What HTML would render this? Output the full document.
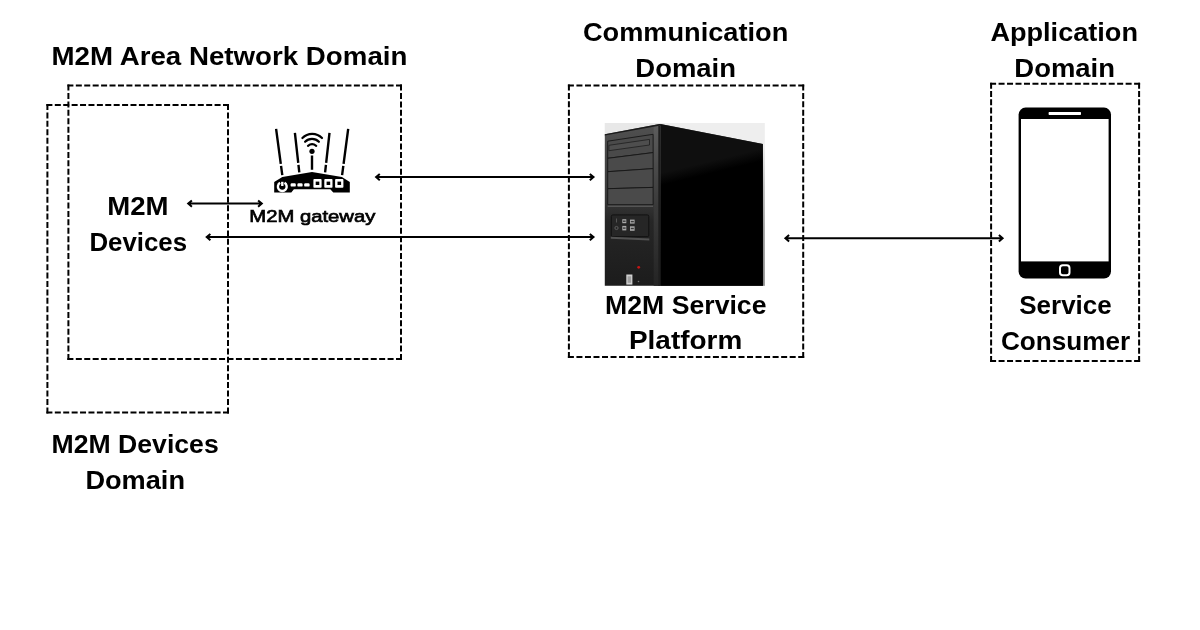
<!DOCTYPE html>
<html><head><meta charset="utf-8">
<style>
html,body{margin:0;padding:0;background:#fff;}
body{width:1200px;height:630px;overflow:hidden;position:relative;}
svg{position:absolute;left:0;top:0;will-change:transform;}
text{font-family:"Liberation Sans",sans-serif;font-weight:bold;fill:#000;}
</style></head>
<body>
<svg width="1200" height="630" viewBox="0 0 1200 630">
<g stroke="#000" stroke-width="2" fill="none">
  <path d="M67.40 85.60 L402.00 85.60" stroke-dasharray="6.0 2.426"/>
  <path d="M68.40 84.60 L68.40 360.00" stroke-dasharray="6.0 2.419"/>
  <path d="M67.40 359.00 L402.00 359.00" stroke-dasharray="6.0 2.426"/>
  <path d="M401.00 84.60 L401.00 360.00" stroke-dasharray="6.0 2.419"/>
  <path d="M46.40 105.00 L229.00 105.00" stroke-dasharray="6.0 2.410"/>
  <path d="M47.40 104.00 L47.40 413.40" stroke-dasharray="6.0 2.428"/>
  <path d="M46.40 412.40 L229.00 412.40" stroke-dasharray="6.0 2.410"/>
  <path d="M228.00 104.00 L228.00 413.40" stroke-dasharray="6.0 2.428"/>
  <path d="M567.90 85.60 L804.20 85.60" stroke-dasharray="6.0 2.530"/>
  <path d="M568.90 84.60 L568.90 357.90" stroke-dasharray="6.0 2.353"/>
  <path d="M567.90 356.90 L804.20 356.90" stroke-dasharray="6.0 2.530"/>
  <path d="M803.20 84.60 L803.20 357.90" stroke-dasharray="6.0 2.353"/>
  <path d="M990.10 83.70 L1140.10 83.70" stroke-dasharray="6.0 2.471"/>
  <path d="M991.10 82.70 L991.10 362.00" stroke-dasharray="6.0 2.282"/>
  <path d="M990.10 361.00 L1140.10 361.00" stroke-dasharray="6.0 2.471"/>
  <path d="M1139.10 82.70 L1139.10 362.00" stroke-dasharray="6.0 2.282"/>
</g>
<g stroke="#000" stroke-width="2" fill="none" stroke-linecap="butt" stroke-linejoin="miter">
  <path d="M188.20 203.60 H261.80 M191.90 200.40 L188.20 203.60 L191.90 206.80 M258.10 200.40 L261.80 203.60 L258.10 206.80"/>
  <path d="M206.70 237.10 H593.50 M210.40 233.90 L206.70 237.10 L210.40 240.30 M589.80 233.90 L593.50 237.10 L589.80 240.30"/>
  <path d="M376.10 177.10 H593.50 M379.80 173.90 L376.10 177.10 L379.80 180.30 M589.80 173.90 L593.50 177.10 L589.80 180.30"/>
  <path d="M785.40 238.20 H1002.60 M789.10 235.00 L785.40 238.20 L789.10 241.40 M998.90 235.00 L1002.60 238.20 L998.90 241.40"/>
</g>

<!-- router -->
<g fill="#000">
  <path d="M274.2 182.1 L282.3 176.9 L312 172 L341.9 176.9 L349.8 182.1 L349.8 192.6 L333.3 192.6 L330.3 189.3 L293.9 189.3 L291.3 192.6 L274.2 192.6 Z"/>
  <circle cx="312" cy="151.3" r="2.6"/>
</g>
<g stroke="#000" stroke-width="2.4" fill="none" stroke-linecap="butt">
  <path d="M276.1 128.9 L282.3 175.1 M294.9 132.9 L299.3 172.4 M312 155.6 V169.8 M329.5 132.9 L325.1 172.4 M348.2 128.9 L342.1 175.1"/>
</g>
<g stroke="#fff" stroke-width="2" fill="none">
  <path d="M278 165.3 L284 164.5 M295.5 164.2 L301 163.6 M323.5 163.6 L329 164.2 M340.5 164.5 L346.5 165.3"/>
</g>
<g stroke="#000" stroke-width="2.2" fill="none" stroke-linecap="round">
  <path d="M308 145.8 A6.7 6.7 0 0 1 316.2 145.8"/>
  <path d="M305.1 141.8 A9.7 9.7 0 0 1 318.9 141.8"/>
  <path d="M302.4 138 A13.5 13.5 0 0 1 322 138"/>
</g>
<g fill="#fff">
  <rect x="290.6" y="183.3" width="5.2" height="3.3" rx="1.2"/>
  <rect x="297.4" y="183.3" width="5.2" height="3.3" rx="1.2"/>
  <rect x="304.2" y="183.3" width="5.4" height="3.3" rx="1.2"/>
  <rect x="313.4" y="179.1" width="8.2" height="8.6" rx="0.8"/>
  <rect x="324.3" y="179.1" width="8.2" height="8.6" rx="0.8"/>
  <rect x="335.1" y="179.1" width="8.3" height="8.6" rx="0.8"/>
</g>
<g fill="#000">
  <rect x="315.7" y="181.6" width="3.6" height="3.4"/>
  <rect x="326.6" y="181.6" width="3.6" height="3.4"/>
  <rect x="337.5" y="181.6" width="3.6" height="3.4"/>
</g>
<g stroke="#fff" stroke-width="2.4" fill="none">
  <path d="M280.1 182.8 A4.4 4.4 0 1 0 284.5 182.8"/>
  <path d="M282.3 181.8 V186"/>
</g>

<!-- phone -->
<rect x="1018.6" y="107.6" width="92.4" height="171" rx="7" fill="#000"/>
<rect x="1021" y="119" width="87.6" height="142.4" fill="#fff"/>
<rect x="1048.6" y="111.9" width="32.4" height="3.1" rx="0.8" fill="#fff"/>
<rect x="1060" y="265.3" width="9.5" height="9.9" rx="2.8" fill="none" stroke="#fff" stroke-width="2"/>

<!-- server -->
<defs>
  <linearGradient id="rstrip" x1="0" y1="0" x2="0" y2="1">
    <stop offset="0" stop-color="#f2f2f2"/>
    <stop offset="0.3" stop-color="#bdbdbd"/>
    <stop offset="0.6" stop-color="#9c9c9c"/>
    <stop offset="1" stop-color="#888"/>
  </linearGradient>
  <linearGradient id="sidetop" gradientUnits="userSpaceOnUse" x1="710.1" y1="161.2" x2="712.9" y2="172.8">
    <stop offset="0" stop-color="#0f0f0f"/>
    <stop offset="1" stop-color="#000"/>
  </linearGradient>
  <linearGradient id="front" x1="0" y1="0" x2="0" y2="1">
    <stop offset="0" stop-color="#505050"/>
    <stop offset="0.45" stop-color="#3a3a3a"/>
    <stop offset="0.6" stop-color="#262626"/>
    <stop offset="1" stop-color="#1c1c1c"/>
  </linearGradient>
  <linearGradient id="bevel" x1="0" y1="0" x2="0" y2="1">
    <stop offset="0" stop-color="#5c5c5c"/>
    <stop offset="0.5" stop-color="#3a3a3a"/>
    <stop offset="1" stop-color="#242424"/>
  </linearGradient>
</defs>
<rect x="604.8" y="123" width="160" height="162.8" fill="#eeeeee"/>
<rect x="604.8" y="123" width="56" height="14" fill="#e8e8e8"/>
<rect x="761.8" y="144" width="3" height="141.8" fill="url(#rstrip)"/>
<path d="M604.8 134.2 L659.5 124 L660.5 124 L762.9 143.9 L762.9 285.8 L604.8 285.8 Z" fill="url(#front)"/>
<path d="M660.3 124 L762.9 143.9 L762.9 285.8 L660.3 285.8 Z" fill="url(#sidetop)"/>
<rect x="653.7" y="126" width="6.6" height="159.8" fill="url(#bevel)"/>
<rect x="658.3" y="126" width="2" height="159.8" fill="#1e1e1e"/>
<path d="M604.8 134.2 L659.5 124 L660.5 124 L660.5 125.4 L604.8 135.6 Z" fill="#1a1a1a"/>
<g fill="#4a4a4a" stroke="#161616" stroke-width="0.9">
  <path d="M607.7 141.2 L653.1 134.3 L653.1 152.6 L607.7 158.3 Z"/>
  <path d="M607.7 158.3 L653.1 152.6 L653.1 168.6 L607.7 171.7 Z"/>
  <path d="M607.7 171.7 L653.1 168.6 L653.1 187.4 L607.7 188.7 Z"/>
  <path d="M607.7 188.7 L653.1 187.4 L653.1 204.7 L607.7 204.7 Z"/>
</g>
<path d="M608.9 145.3 L649.5 139.4 L649.5 145 L608.9 150.7 Z" fill="#4e4e4e" stroke="#1e1e1e" stroke-width="0.8"/>
<path d="M607.7 205.5 L653.1 205.5 L653.1 207 L607.7 207 Z" fill="#555"/>
<rect x="611.3" y="214.9" width="37.5" height="21.8" rx="1.5" fill="#262626" stroke="#111" stroke-width="1"/>
<path d="M610.8 236.8 L649.3 238.5 L649.3 240.5 L610.8 238.8 Z" fill="#525252"/>
<g fill="#a8a8a8">
  <rect x="622.3" y="219.2" width="4" height="4"/>
  <rect x="622.3" y="225.9" width="4" height="4.5"/>
  <rect x="630" y="219.6" width="4.6" height="4"/>
  <rect x="630" y="226.3" width="4.6" height="4.5"/>
</g>
<g fill="#3a3a3a">
  <rect x="623" y="220.5" width="2.6" height="1.4"/>
  <rect x="623" y="227.4" width="2.6" height="1.4"/>
  <rect x="630.8" y="220.9" width="3" height="1.4"/>
  <rect x="630.8" y="227.8" width="3" height="1.4"/>
</g>
<circle cx="616.5" cy="228" r="1.6" fill="none" stroke="#6a6a6a" stroke-width="0.8"/>
<rect x="616" y="218.5" width="1" height="4" fill="#555"/>
<circle cx="638.7" cy="267.3" r="1.4" fill="#c81515"/>
<rect x="626.3" y="274.5" width="6.1" height="10.1" fill="#d0d0d0"/>
<rect x="627.6" y="276.3" width="3.5" height="6.5" fill="#a0a0a0"/>
<circle cx="638.5" cy="281.5" r="0.8" fill="#777"/>

<!-- texts -->
<text x="51.5" y="65" font-size="26" textLength="355.9" lengthAdjust="spacingAndGlyphs">M2M Area Network Domain</text>
<text x="582.9" y="41" font-size="26" textLength="205.4" lengthAdjust="spacingAndGlyphs">Communication</text>
<text x="635.3" y="77" font-size="26" textLength="100.7" lengthAdjust="spacingAndGlyphs">Domain</text>
<text x="990.4" y="41" font-size="26" textLength="147.6" lengthAdjust="spacingAndGlyphs">Application</text>
<text x="1014.3" y="77" font-size="26" textLength="100.7" lengthAdjust="spacingAndGlyphs">Domain</text>
<text x="107.2" y="215" font-size="26" textLength="61.3" lengthAdjust="spacingAndGlyphs">M2M</text>
<text x="89.4" y="250.6" font-size="26" textLength="97.7" lengthAdjust="spacingAndGlyphs">Devices</text>
<text x="249.3" y="222.4" font-size="17" textLength="126.0" lengthAdjust="spacingAndGlyphs" style="font-weight:normal" stroke="#000" stroke-width="0.7">M2M gateway</text>
<text x="605.1" y="314" font-size="26" textLength="161.4" lengthAdjust="spacingAndGlyphs">M2M Service</text>
<text x="629.0" y="349.4" font-size="26" textLength="113.2" lengthAdjust="spacingAndGlyphs">Platform</text>
<text x="1019.3" y="314.4" font-size="26" textLength="92.4" lengthAdjust="spacingAndGlyphs">Service</text>
<text x="1000.9" y="350" font-size="26" textLength="129.3" lengthAdjust="spacingAndGlyphs">Consumer</text>
<text x="51.5" y="452.8" font-size="26" textLength="167.2" lengthAdjust="spacingAndGlyphs">M2M Devices</text>
<text x="85.4" y="488.7" font-size="26" textLength="99.6" lengthAdjust="spacingAndGlyphs">Domain</text>
</svg>
</body></html>
